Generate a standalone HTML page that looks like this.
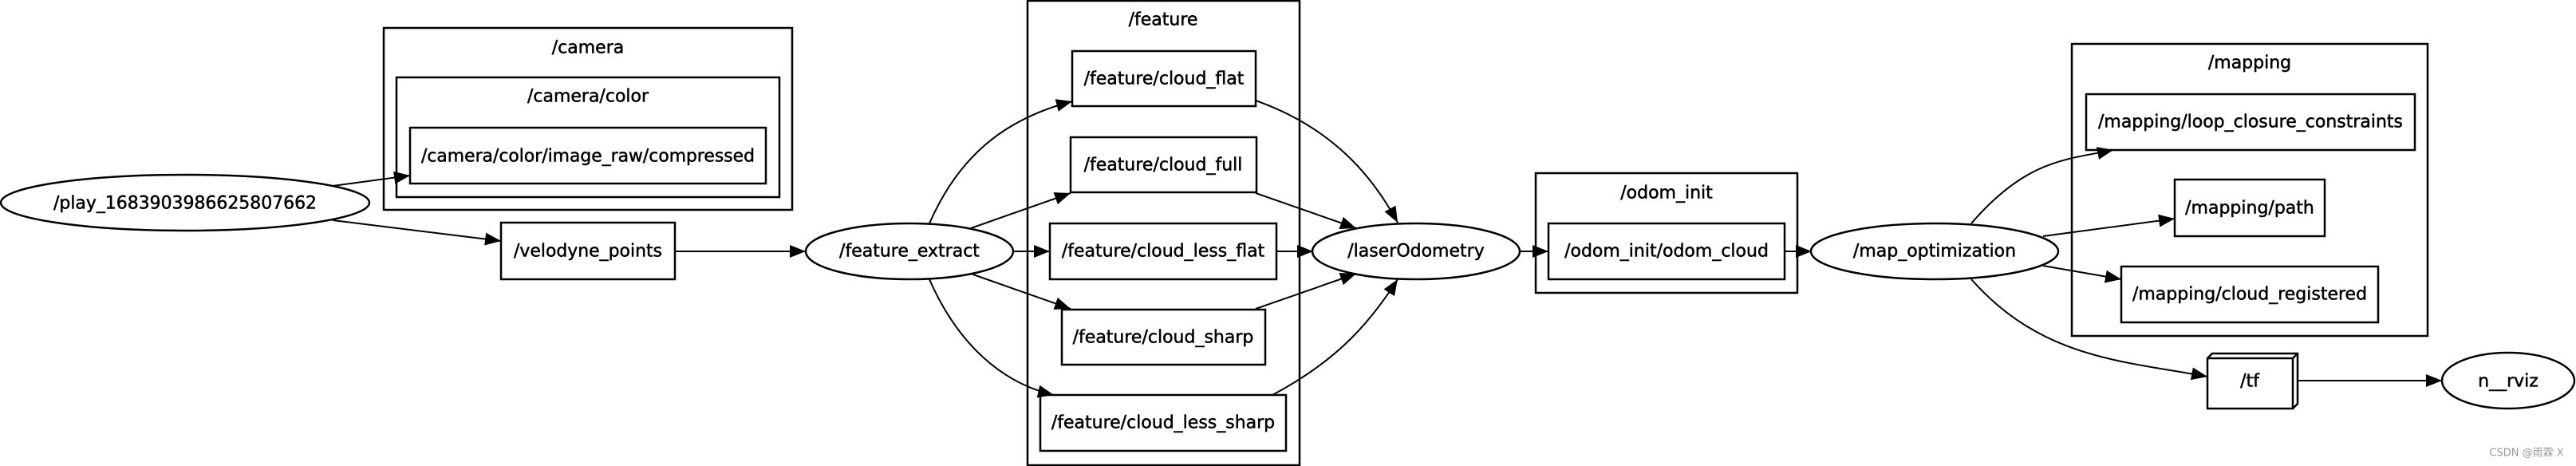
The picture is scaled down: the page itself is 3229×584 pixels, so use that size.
<!DOCTYPE html>
<html><head><meta charset="utf-8"><style>
html,body{margin:0;padding:0;background:#fff;}
svg{display:block}
text{font-family:"DejaVu Sans","Liberation Sans",sans-serif;font-size:22px;fill:#000;stroke:#000;stroke-width:0.5;text-anchor:middle;dominant-baseline:central}
.b{fill:none;stroke:#000;stroke-width:2.5}
.e{fill:none;stroke:#000;stroke-width:2}
</style></head><body>
<svg width="3229" height="584" viewBox="0 0 3229 584" xmlns="http://www.w3.org/2000/svg">
<defs><marker id="a" markerUnits="userSpaceOnUse" markerWidth="22" markerHeight="16" refX="20" refY="8" orient="auto"><path d="M0,0 L20,8 L0,16 z" fill="#000"/></marker></defs>

<rect class="b" x="481" y="35" width="512" height="228"/>
<text x="737" y="60">/camera</text>
<rect class="b" x="497" y="97" width="480" height="150"/>
<text x="737" y="121">/camera/color</text>
<rect class="b" x="514" y="160" width="446" height="70"/>
<text x="737" y="196" textLength="418" lengthAdjust="spacingAndGlyphs">/camera/color/image_raw/compressed</text>

<rect class="b" x="1288" y="1" width="341" height="582"/>
<text x="1458" y="25">/feature</text>
<rect class="b" x="1344" y="64" width="230" height="69"/>
<text x="1459" y="99">/feature/cloud_flat</text>
<rect class="b" x="1342" y="172" width="233" height="69"/>
<text x="1458" y="207">/feature/cloud_full</text>
<rect class="b" x="1316" y="280" width="284" height="70"/>
<text x="1458" y="315">/feature/cloud_less_flat</text>
<rect class="b" x="1331" y="388" width="255" height="69"/>
<text x="1458" y="423">/feature/cloud_sharp</text>
<rect class="b" x="1304" y="495" width="308" height="70"/>
<text x="1458" y="530">/feature/cloud_less_sharp</text>

<rect class="b" x="1925" y="217" width="328" height="150"/>
<text x="2089" y="242">/odom_init</text>
<rect class="b" x="1941" y="280" width="296" height="70"/>
<text x="2089" y="315">/odom_init/odom_cloud</text>

<rect class="b" x="2597" y="55" width="446" height="366"/>
<text x="2820" y="79">/mapping</text>
<rect class="b" x="2615" y="118" width="412" height="70"/>
<text x="2821" y="153" textLength="382" lengthAdjust="spacingAndGlyphs">/mapping/loop_closure_constraints</text>
<rect class="b" x="2726" y="225" width="188" height="71"/>
<text x="2820" y="261">/mapping/path</text>
<rect class="b" x="2659" y="334" width="322" height="70"/>
<text x="2820" y="369">/mapping/cloud_registered</text>

<ellipse class="b" cx="232" cy="254" rx="231" ry="35"/>
<text x="232" y="255" textLength="330" lengthAdjust="spacingAndGlyphs">/play_1683903986625807662</text>
<rect class="b" x="628" y="279" width="218" height="71"/>
<text x="737" y="315" textLength="186" lengthAdjust="spacingAndGlyphs">/velodyne_points</text>
<ellipse class="b" cx="1140" cy="315" rx="130" ry="35"/>
<text x="1140" y="315">/feature_extract</text>
<ellipse class="b" cx="1775" cy="315" rx="130" ry="35"/>
<text x="1775" y="315">/laserOdometry</text>
<ellipse class="b" cx="2425" cy="315" rx="155" ry="35"/>
<text x="2425" y="315">/map_optimization</text>
<path class="b" d="M2767,449 L2773,443 L2880,443 L2880,506 L2874,512"/>
<path class="b" d="M2874,449 L2880,443"/>
<rect class="b" x="2767" y="449" width="107" height="63" fill="#fff"/>
<text x="2820" y="478">/tf</text>
<ellipse class="b" cx="3144" cy="477" rx="83" ry="35"/>
<text x="3144" y="478">n__rviz</text>

<g marker-end="url(#a)">
<path class="e" d="M417,233 L514,220"/>
<path class="e" d="M417,276 L628,302"/>
<path class="e" d="M846,315 L1010,315"/>
<path class="e" d="M1165,280 C1200,200 1255,150 1344,127"/>
<path class="e" d="M1217,286 L1342,242"/>
<path class="e" d="M1270,315 L1316,315"/>
<path class="e" d="M1217,343 L1342,387"/>
<path class="e" d="M1165,350 C1200,430 1255,480 1321,495"/>
<path class="e" d="M1574,126 C1670,160 1720,220 1752,279"/>
<path class="e" d="M1574,242 L1700,286"/>
<path class="e" d="M1600,315 L1646,315"/>
<path class="e" d="M1574,387 L1700,343"/>
<path class="e" d="M1595,495 C1680,450 1720,400 1752,350"/>
<path class="e" d="M1905,315 L1941,315"/>
<path class="e" d="M2237,315 L2271,315"/>
<path class="e" d="M2471,280 C2540,200 2590,200 2649,188"/>
<path class="e" d="M2561,296 L2726,274"/>
<path class="e" d="M2561,333 L2659,350"/>
<path class="e" d="M2471,350 C2560,450 2660,452 2767,472"/>
<path class="e" d="M2880,477 L3061,477"/>
</g>
<text x="3167" y="568" style="font-size:13px;fill:#999;stroke:none">CSDN @雨霖 X</text>
</svg>
</body></html>
